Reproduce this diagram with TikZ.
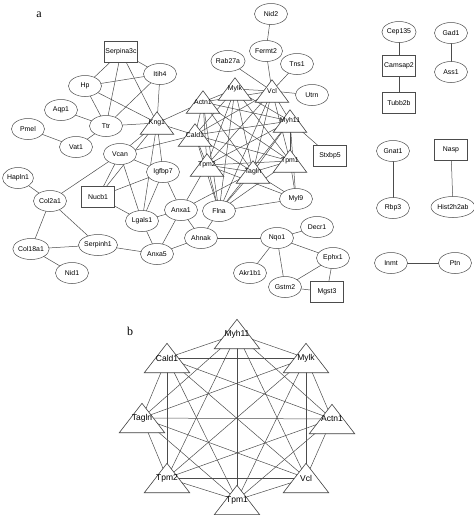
\documentclass[tikz,border=0pt]{standalone}
\usepackage{fontspec}
\setmainfont{Liberation Sans}
\newfontfamily\panelfont{Liberation Serif}
\usetikzlibrary{shapes.geometric}
\pgfdeclarelayer{edges}
\pgfdeclarelayer{shapes}
\pgfsetlayers{edges,shapes,main}
\tikzset{
  ell/.style={ellipse, draw=black!70, fill=white, line width=0.5pt, minimum width=33pt, minimum height=21pt, inner sep=0pt, font=\fontsize{6.9}{7.5}\selectfont},
  box/.style={rectangle, draw=black!70, fill=white, line width=0.5pt, minimum width=33pt, minimum height=21pt, inner sep=1pt, font=\fontsize{6.9}{7.5}\selectfont},
  tri/.style={rectangle, minimum width=33pt, minimum height=22pt, inner sep=0pt, font=\fontsize{6.9}{7.5}\selectfont},
  trib/.style={rectangle, minimum width=45pt, minimum height=29pt, inner sep=0pt, font=\fontsize{8.5}{9.5}\selectfont},
  edge/.style={draw=black!70, line width=0.5pt},
  trishape/.style={draw=black!75, fill=white, line width=0.6pt},
  panel/.style={font=\fontsize{12}{13}\selectfont\panelfont}
}
\begin{document}
\begin{tikzpicture}[x=1pt,y=-1pt]
\useasboundingbox (0,0) rectangle (474,515);
% panel labels
\node[panel] (la) at (39,15) {a};
\node[panel] (lb) at (130,331) {b};
% panel a nodes
\node[box] (Serpina3c) at (121,52) {Serpina3c};
\node[ell] (Itih4) at (160,74) {Itih4};
\node[ell] (Hp) at (85,86) {Hp};
\node[ell] (Aqp1) at (61,110) {Aqp1};
\node[ell] (Pmel) at (28,129) {Pmel};
\node[ell] (Ttr) at (106,126) {Ttr};
\node[tri] (Kng1) at (157,123) {Kng1};
\node[ell] (Vat1) at (76,147) {Vat1};
\node[ell] (Vcan) at (120,154) {Vcan};
\node[ell] (Igfbp7) at (163,172) {Igfbp7};
\node[box] (Nucb1) at (98,197) {Nucb1};
\node[ell, minimum width=30pt] (Hapln1) at (18,178) {Hapln1};
\node[ell] (Col2a1) at (50,201) {Col2a1};
\node[ell] (Lgals1) at (142,221) {Lgals1};
\node[ell] (Serpinh1) at (98,245) {Serpinh1};
\node[ell] (Col18a1) at (31,249) {Col18a1};
\node[ell] (Nid1) at (72,273) {Nid1};
\node[ell] (Anxa5) at (157,254) {Anxa5};
\node[ell] (Anxa1) at (181,210) {Anxa1};
\node[ell] (Flna) at (219,211) {Flna};
\node[ell] (Ahnak) at (201,238) {Ahnak};
\node[tri] (Tpm2) at (207,165) {Tpm2};
\node[tri] (Tagln) at (253,172) {Tagln};
\node[tri] (Tpm1) at (290,161) {Tpm1};
\node[ell] (Myl9) at (296,199) {Myl9};
\node[box] (Stxbp5) at (330,156) {Stxbp5};
\node[tri] (Cald1) at (195,135) {Cald1};
\node[tri] (Actn1) at (203,102) {Actn1};
\node[tri] (Mylk) at (235,89) {Mylk};
\node[tri] (Vcl) at (272,91) {Vcl};
\node[tri] (Myh11) at (290,121) {Myh11};
\node[ell] (Rab27a) at (228,61) {Rab27a};
\node[ell] (Fermt2) at (266,51) {Fermt2};
\node[ell] (Nid2) at (271,14) {Nid2};
\node[ell] (Tns1) at (297,64) {Tns1};
\node[ell] (Utrn) at (312,95) {Utrn};
\node[ell] (Nqo1) at (277,238) {Nqo1};
\node[ell] (Decr1) at (317,227) {Decr1};
\node[ell] (Ephx1) at (333,258) {Ephx1};
\node[ell] (Akr1b1) at (250,273) {Akr1b1};
\node[ell] (Gstm2) at (285,287) {Gstm2};
\node[box] (Mgst3) at (327,292) {Mgst3};
% right column
\node[ell] (Cep135) at (399,32) {Cep135};
\node[box] (Camsap2) at (399,66) {Camsap2};
\node[box] (Tubb2b) at (399,103) {Tubb2b};
\node[ell] (Gad1) at (451,33) {Gad1};
\node[ell] (Ass1) at (451,72) {Ass1};
\node[ell] (Gnat1) at (393,151) {Gnat1};
\node[ell] (Rbp3) at (393,208) {Rbp3};
\node[box] (Nasp) at (451,150) {Nasp};
\node[ell, minimum width=37pt] (Hist2h2ab) at (453,207) {Hist2h2ab};
\node[ell] (Inmt) at (391,263) {Inmt};
\node[ell] (Ptn) at (455,263) {Ptn};
% panel b nodes
\node[trib] (bMyh11) at (237,334) {Myh11};
\node[trib] (bCald1) at (167,358) {Cald1};
\node[trib] (bMylk) at (306,358) {Mylk};
\node[trib] (bTagln) at (142,418) {Tagln};
\node[trib] (bActn1) at (332,419) {Actn1};
\node[trib] (bTpm2) at (167,478) {Tpm2};
\node[trib] (bVcl) at (306,478) {Vcl};
\node[trib] (bTpm1) at (237,500) {Tpm1};
% triangles
\begin{pgfonlayer}{shapes}
\foreach \n in {Kng1,Tpm2,Tagln,Tpm1,Cald1,Actn1,Mylk,Vcl,Myh11,bMyh11,bCald1,bMylk,bTagln,bActn1,bTpm2,bVcl,bTpm1}
  \draw[trishape] (\n.north) -- (\n.south east) -- (\n.south west) -- cycle;
\end{pgfonlayer}
% edges
\begin{pgfonlayer}{edges}
\foreach \a/\b in {Serpina3c/Hp,Serpina3c/Ttr,Serpina3c/Kng1,Serpina3c/Itih4,
  Itih4/Hp,Itih4/Ttr,Itih4/Kng1,Hp/Ttr,Hp/Kng1,Aqp1/Ttr,Pmel/Vat1,Ttr/Vat1,Ttr/Kng1,
  Kng1/Vcan,Kng1/Igfbp7,Kng1/Lgals1,Kng1/Nucb1,Kng1/Actn1,Kng1/Cald1,
  Vcan/Col2a1,Vcan/Igfbp7,Vcan/Nucb1,Vcan/Lgals1,Vcan/Cald1,
  Igfbp7/Nucb1,Igfbp7/Lgals1,Igfbp7/Anxa1,Nucb1/Lgals1,
  Col2a1/Hapln1,Col2a1/Col18a1,Col2a1/Serpinh1,Col18a1/Nid1,Col18a1/Serpinh1,
  Serpinh1/Anxa5,Lgals1/Anxa5,Lgals1/Anxa1,Anxa5/Anxa1,Anxa5/Ahnak,
  Anxa1/Ahnak,Anxa1/Tpm2,Anxa1/Tagln,Ahnak/Flna,Ahnak/Nqo1,
  Flna/Tpm2,Flna/Tagln,Flna/Tpm1,Flna/Myh11,Flna/Vcl,Flna/Mylk,Flna/Cald1,Flna/Actn1,Flna/Myl9,
  Myl9/Tagln,Myl9/Tpm1,Myl9/Myh11,Myl9/Tpm2,Myh11/Stxbp5,
  Fermt2/Nid2,Fermt2/Vcl,Rab27a/Vcl,Tns1/Vcl,Utrn/Vcl,
  Nqo1/Decr1,Nqo1/Ephx1,Nqo1/Akr1b1,Nqo1/Gstm2,Gstm2/Ephx1,Gstm2/Mgst3,Ephx1/Mgst3,
  Cep135/Camsap2,Camsap2/Tubb2b,Gad1/Ass1,Gnat1/Rbp3,Nasp/Hist2h2ab,Inmt/Ptn}
  \draw[edge] (\a.center) -- (\b.center);
% cliques
\foreach \a/\b in {Actn1/Mylk,Actn1/Vcl,Actn1/Myh11,Actn1/Cald1,Actn1/Tpm2,Actn1/Tagln,Actn1/Tpm1,
  Mylk/Vcl,Mylk/Myh11,Mylk/Cald1,Mylk/Tpm2,Mylk/Tagln,Mylk/Tpm1,
  Vcl/Myh11,Vcl/Cald1,Vcl/Tpm2,Vcl/Tagln,Vcl/Tpm1,
  Myh11/Cald1,Myh11/Tpm2,Myh11/Tagln,Myh11/Tpm1,
  Cald1/Tpm2,Cald1/Tagln,Cald1/Tpm1,Tpm2/Tagln,Tpm2/Tpm1,Tagln/Tpm1}
{
  \draw[edge] (\a.center) -- (\b.center);
  \draw[edge] (b\a.center) -- (b\b.center);
}
\end{pgfonlayer}
\end{tikzpicture}
\end{document}
